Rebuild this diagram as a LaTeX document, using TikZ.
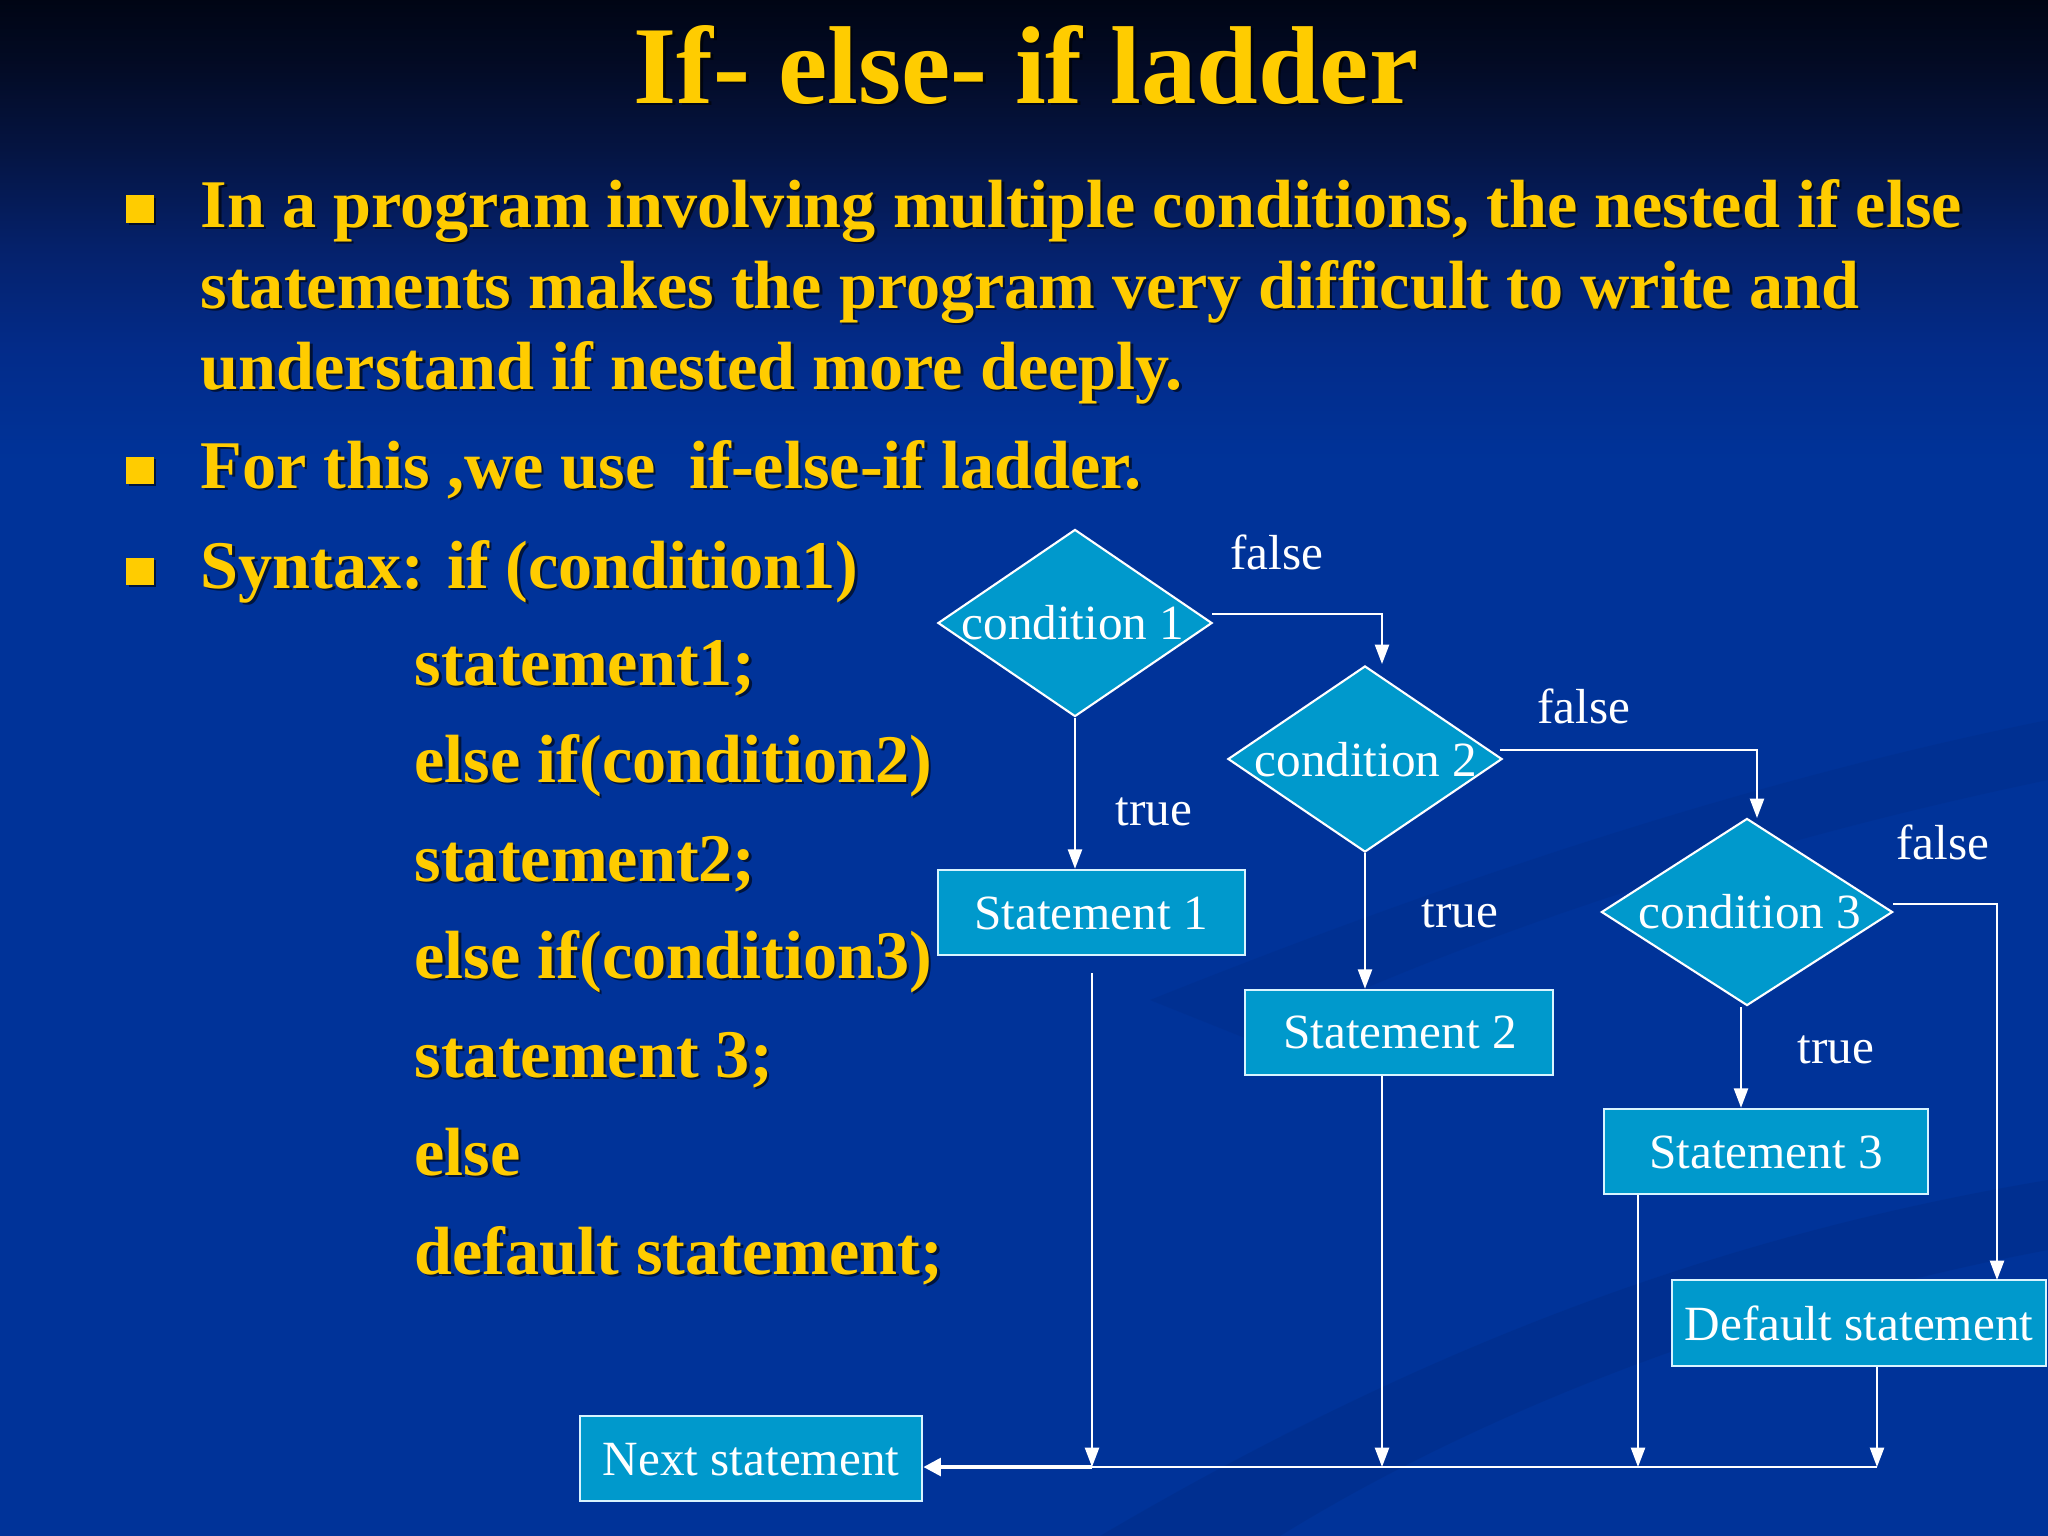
\documentclass[tikz,border=0pt]{standalone}
\usepackage{fontspec}
\setmainfont{Liberation Serif}
\usetikzlibrary{shapes.geometric,arrows.meta}
\definecolor{ylw}{HTML}{FFCC00}
\definecolor{boxfill}{HTML}{0099CC}
\definecolor{boxline}{HTML}{D8F4FF}
\definecolor{swoosh}{HTML}{002A80}
\pgfdeclareverticalshading{bgshade}{100bp}{rgb(0bp)=(0,0.2,0.6); rgb(60bp)=(0,0.2,0.6); rgb(63.6bp)=(0.01,0.17,0.54); rgb(66.9bp)=(0.02,0.13,0.42); rgb(70.1bp)=(0.02,0.08,0.26); rgb(73bp)=(0.01,0.04,0.14); rgb(75bp)=(0.0,0.02,0.08); rgb(100bp)=(0.0,0.02,0.08)}
\tikzset{
 ytxt/.style={text=ylw, font=\fontsize{19.4}{19.4}\selectfont\bfseries, inner sep=0, anchor=base west},
 ttl/.style={text=ylw, font=\fontsize{31.5}{31.5}\selectfont\bfseries, inner sep=0, anchor=base},
 bul/.style={fill=ylw, minimum size=0.27cm, inner sep=0},
 dia/.style={shape=diamond, fill=boxfill, draw=white, line width=0.6pt, inner sep=0},
 sbox/.style={rectangle, fill=boxfill, draw=boxline, line width=0.7pt, inner sep=0, minimum height=0.85cm},
 wtxt/.style={text=white, font=\fontsize{14}{14}\selectfont, inner sep=0, anchor=base},
 conn/.style={draw=white, line width=0.6pt, -{Triangle[length=5.5pt,width=4pt]}},
 plain/.style={draw=white, line width=0.6pt},
}
\newcommand\shtext[4]{%
  \node[#3, text=black, opacity=0.6, xshift=0.7pt, yshift=-0.7pt] (#1s) at (#2) {#4};
  \node[#3] (#1) at (#2) {#4};}
\newcommand\shbul[2]{%
  \node[bul, fill=black, opacity=0.6, xshift=0.7pt, yshift=-0.7pt] (#1s) at (#2) {};
  \node[bul] (#1) at (#2) {};}
\begin{document}
\begin{tikzpicture}[x=0.01cm,y=-0.01cm]
\useasboundingbox (0,0) rectangle (2048,1536);
\shade[shading=bgshade] (0,0) rectangle (2048,1536);
% subtle background swoosh
\fill[swoosh, opacity=0.35] (1100,1536) .. controls (1450,1330) and (1750,1230) .. (2048,1180) -- (2048,1250) .. controls (1780,1300) and (1500,1400) .. (1280,1536) -- cycle;
\fill[swoosh, opacity=0.25] (1150,1000) .. controls (1450,880) and (1750,780) .. (2048,720) -- (2048,780) .. controls (1760,840) and (1480,930) .. (1250,1040) -- cycle;

% title
\shtext{title}{1026,103}{ttl}{If- else- if ladder}

% bullets
\shbul{b1}{140,209}
\shbul{b2}{140,470}
\shbul{b3}{140,571}
\shtext{l1}{200,227}{ytxt}{In a program involving multiple conditions, the nested if else}
\shtext{l2}{200,308}{ytxt}{statements makes the program very difficult to write and}
\shtext{l3}{200,389}{ytxt}{understand if nested more deeply.}
\shtext{l4}{200,488}{ytxt}{For this ,we use~~if-else-if ladder.}
\shtext{l5}{200,588}{ytxt}{Syntax: if (condition1)}
\shtext{k1}{414,685}{ytxt}{statement1;}
\shtext{k2}{414,782}{ytxt}{else if(condition2)}
\shtext{k3}{414,881}{ytxt}{statement2;}
\shtext{k4}{414,978}{ytxt}{else if(condition3)}
\shtext{k5}{414,1077}{ytxt}{statement 3;}
\shtext{k6}{414,1175}{ytxt}{else}
\shtext{k7}{414,1274}{ytxt}{default statement;}

% flowchart shapes
\node[dia, minimum width=2.74cm, minimum height=1.87cm] (c1) at (1075,623) {};
\node[dia, minimum width=2.74cm, minimum height=1.86cm] (c2) at (1365,759) {};
\node[dia, minimum width=2.91cm, minimum height=1.87cm] (c3) at (1747,912) {};
\node[sbox, minimum width=3.07cm] (s1) at (1091.5,912.5) {};
\node[sbox, minimum width=3.08cm] (s2) at (1399,1032.5) {};
\node[sbox, minimum width=3.24cm] (s3) at (1766,1151.5) {};
\node[sbox, minimum width=3.74cm, minimum height=0.86cm] (def) at (1859,1323) {};
\node[sbox, minimum width=3.42cm] (next) at (751,1458.5) {};

\node[wtxt] (c1t) at (1073,639) {condition 1};
\node[wtxt] (c2t) at (1366,776) {condition 2};
\node[wtxt] (c3t) at (1750,928) {condition 3};
\node[wtxt] (s1t) at (1091,929) {Statement 1};
\node[wtxt] (s2t) at (1400,1048) {Statement 2};
\node[wtxt] (s3t) at (1766,1168) {Statement 3};
\node[wtxt] (deft) at (1859,1340) {Default statement};
\node[wtxt] (nextt) at (751,1475) {Next statement};

\node[wtxt] (f1) at (1277,569) {false};
\node[wtxt] (f2) at (1584,723) {false};
\node[wtxt] (f3) at (1943,859) {false};
\node[wtxt] (t1) at (1154,825) {true};
\node[wtxt] (t2) at (1460,927) {true};
\node[wtxt] (t3) at (1836,1063) {true};

% connector helper coordinates
\coordinate (a1) at (1212,614);
\coordinate (a1e) at (1382,664);
\coordinate (a2) at (1500,750);
\coordinate (a2e) at (1757,818);
\coordinate (a3) at (1893,904);
\coordinate (a3e) at (1997,1280);
\coordinate (d3) at (1741,1007);
\coordinate (v1s) at (1092,973);
\coordinate (bl1) at (1092,1467);
\coordinate (bl2) at (1382,1467);
\coordinate (bl3) at (1638,1467);
\coordinate (bl4) at (1877,1467);

% false branches
\draw[conn] (a1) -| (a1e);
\draw[conn] (a2) -| (a2e);
\draw[conn] (a3) -| (a3e);
% true branches
\draw[conn] (c1.south) -- (c1.south |- s1.north);
\draw[conn] (c2.south) -- (c2.south |- s2.north);
\draw[conn] (d3) -- (d3 |- s3.north);
% to next statement
\draw[conn] (v1s) -- (bl1);
\draw[conn] (bl2 |- s2.south) -- (bl2);
\draw[conn] (bl3 |- s3.south) -- (bl3);
\draw[conn] (bl4 |- def.south) -- (bl4);
\draw[plain] (bl4) -- (bl1);
\draw[draw=white, line width=1.1pt, -{Triangle[length=5pt,width=5pt]}] (bl1) -- (next.east |- bl1);
\end{tikzpicture}
\end{document}
